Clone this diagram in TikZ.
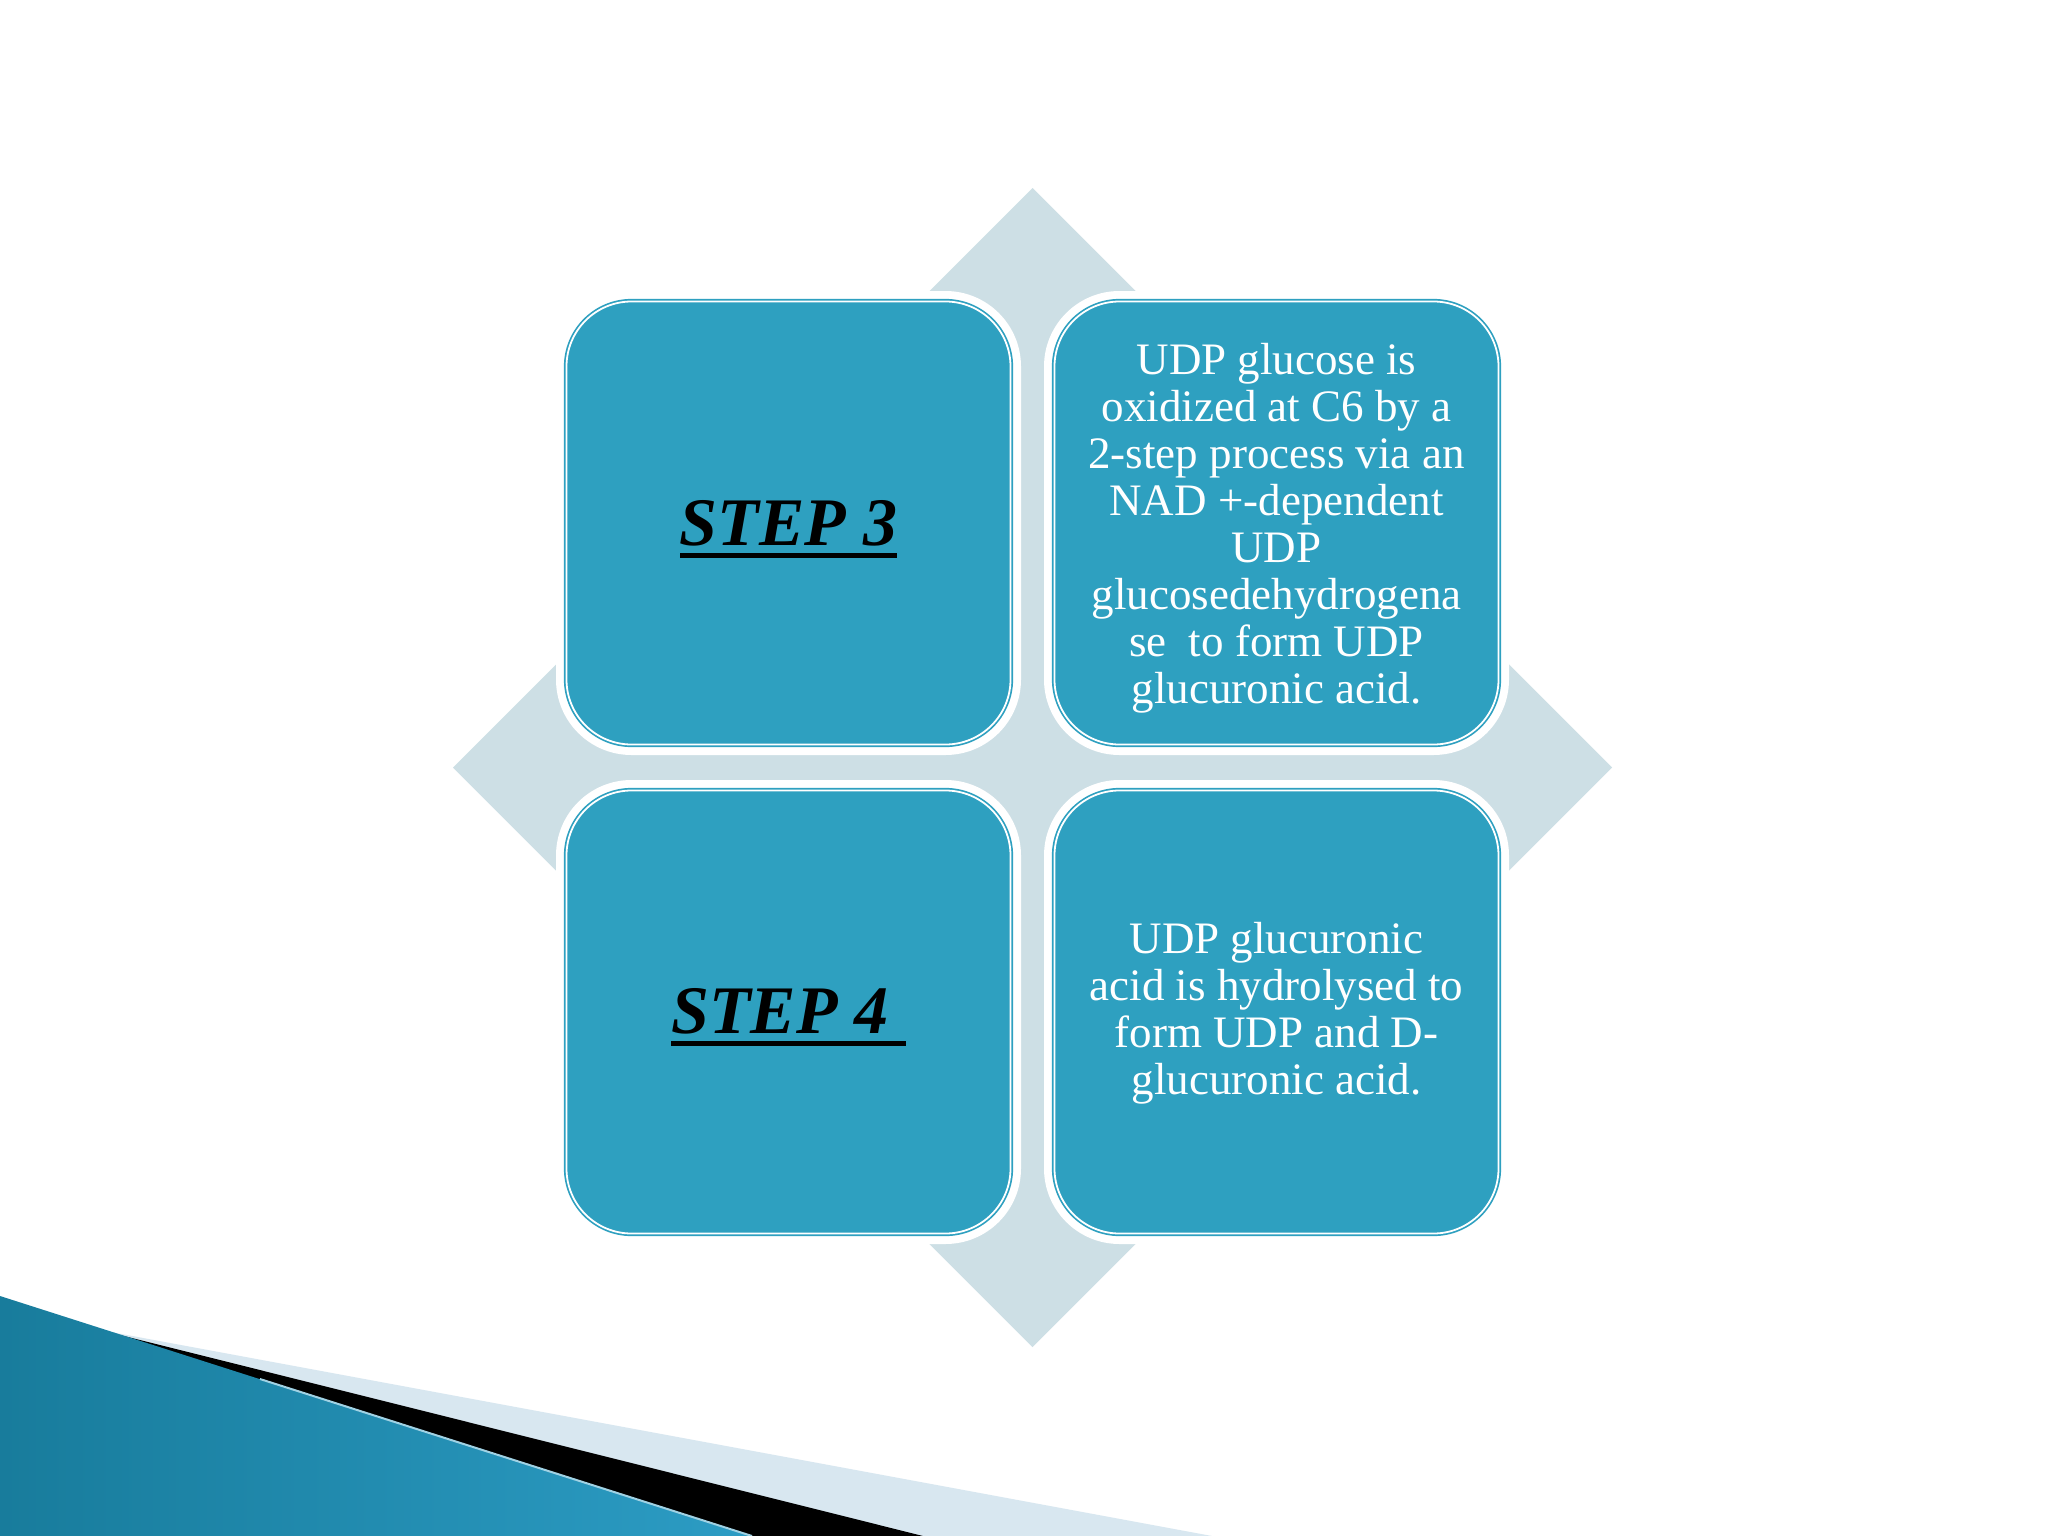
\documentclass[tikz,border=0pt]{standalone}
\usepackage{fontspec}
\setmainfont{Liberation Serif}
\definecolor{boxteal}{RGB}{46,160,192}
\definecolor{diam}{RGB}{205,223,229}
\definecolor{paleband}{RGB}{216,231,240}
\definecolor{tealdark}{RGB}{24,124,156}
\definecolor{teallight}{RGB}{104,198,228}
\definecolor{tealmid}{RGB}{44,156,196}
\definecolor{edgeline}{RGB}{160,210,228}
\tikzset{
  stepbox/.style={rectangle, rounded corners=65pt, minimum width=444pt, minimum height=443pt,
    inner sep=0pt, fill=boxteal, draw=boxteal, double=white, double distance=1.8pt, line width=1.7pt,
    preaction={draw=white, line width=21pt}},
  bodytext/.style={text=white, font=\fontsize{45}{47}\selectfont, align=center, inner sep=0pt},
  steplabel/.style={text=black, font=\fontsize{68}{80}\selectfont\bfseries\itshape, inner sep=0pt, anchor=base},
}
\begin{document}
\begin{tikzpicture}[x=1pt, y=-1pt]
\useasboundingbox (0,0) rectangle (2048,1536);
\fill[white] (0,0) rectangle (2048,1536);

% background diamond
\fill[diam] (1032.5,188) -- (1612,767.5) -- (1032.5,1347) -- (453,767.5) -- cycle;

% four rounded boxes
\node[stepbox] (b3) at (788.5,523) {};
\node[stepbox] (b3t) at (1276.5,523) {};
\node[stepbox] (b4) at (788.5,1012) {};
\node[stepbox] (b4t) at (1276.5,1012) {};

% step labels
\node[steplabel] (s3) at (788.5,545) {STEP 3};
\fill ([yshift=-8pt]s3.base west) rectangle ([yshift=-13pt]s3.base east);
\node[steplabel] (s4) at (788.5,1033) {STEP 4\hspace*{17pt}\mbox{}};
\fill ([yshift=-8pt]s4.base west) rectangle ([yshift=-13pt]s4.base east);

% texts
\node[bodytext] (t3) at (1276.5,528) {UDP glucose is\\oxidized at C6 by a\\2-step process via an\\NAD +-dependent\\UDP\\glucosedehydrogena\\se~ to form UDP\\glucuronic acid.};
\node[bodytext] (t4) at (1276.5,1013) {UDP glucuronic\\acid is hydrolysed to\\form UDP and D-\\glucuronic acid.};

% bottom-left decoration
\fill[paleband] (100,1330) -- (1212,1536) -- (0,1536) -- cycle;
\fill[black] (104,1331) -- (923,1536) -- (0,1536) -- cycle;
\shade[shading=axis, shading angle=100, left color=tealdark, middle color=teallight, right color=tealmid]
  (0,1296) -- (100,1328) -- (750,1536) -- (0,1536) -- cycle;
\draw[edgeline, line width=2pt] (260,1379) -- (752,1536);
\end{tikzpicture}
\end{document}
